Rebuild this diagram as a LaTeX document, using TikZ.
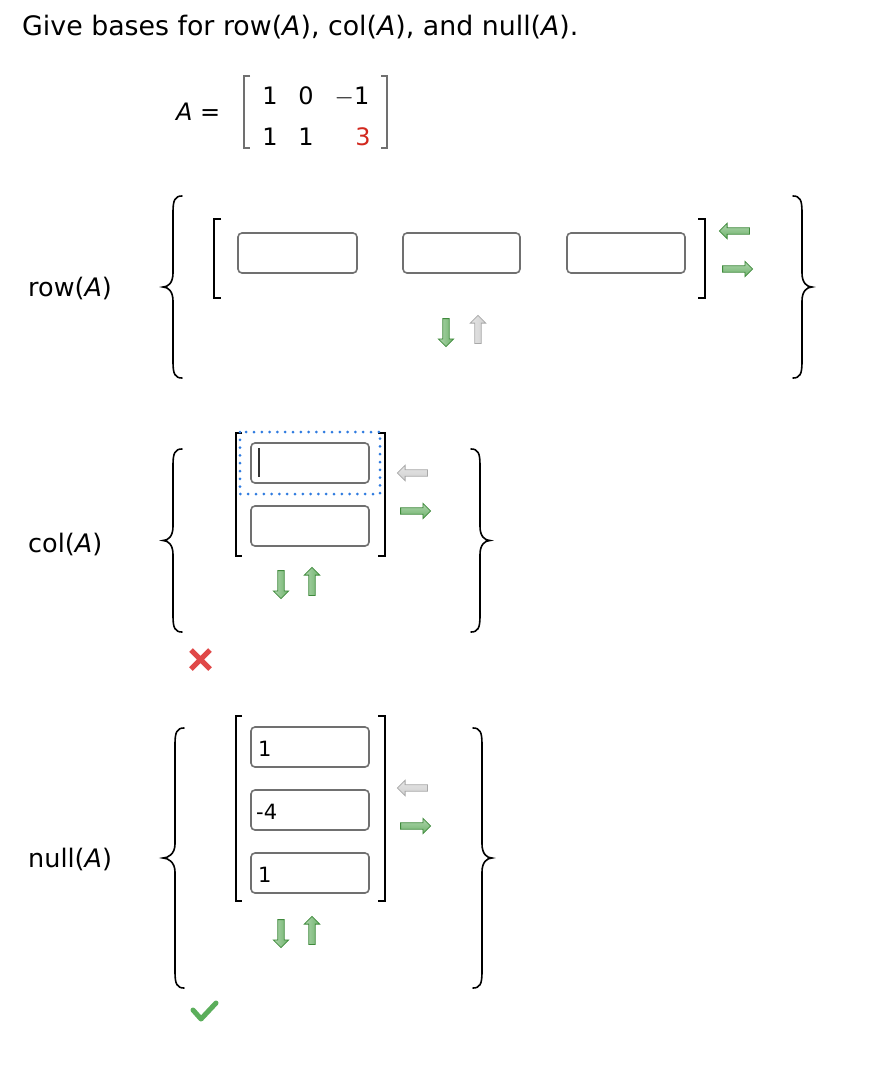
\documentclass[tikz,border=0pt]{standalone}
\usepackage{fontspec}
\setmainfont{DejaVu Sans}
\usetikzlibrary{shapes.arrows}
\definecolor{gboxc}{HTML}{707070}
\definecolor{arrg}{HTML}{6DB26A}
\definecolor{arrgd}{HTML}{3F8A3C}
\definecolor{arrgr}{HTML}{D0D0D0}
\definecolor{arrgrd}{HTML}{A8A8A8}
\definecolor{dotblue}{HTML}{2F7BE0}
\definecolor{redx}{HTML}{E04848}
\definecolor{okg}{HTML}{5BAE5B}
\begin{document}
\begin{tikzpicture}[x=1pt,y=-1pt,
  txt/.style={font=\fontsize{25.5}{30}\selectfont,anchor=base west,inner sep=0},
  ent/.style={font=\fontsize{24}{28}\selectfont,anchor=base,inner sep=0},
  field/.style={draw=gboxc,line width=1.6pt,rounded corners=4pt},
  brk/.style={line width=1.6pt},
  brc/.style={line width=1.6pt,line cap=round},
  harr/.style={single arrow,minimum height=30pt,minimum width=15pt,single arrow head extend=4.5pt,inner sep=2.8pt,draw=#1d,line width=0.8pt,left color=#1!55!white,right color=#1,shading angle=0},
  varr/.style={single arrow,minimum height=28pt,minimum width=15pt,single arrow head extend=4.5pt,inner sep=2.8pt,draw=#1d,line width=0.8pt,left color=#1!55!white,right color=#1}
]
\useasboundingbox (0,0) rectangle (882,1072);
\fill[white] (0,0) rectangle (882,1072);
\newcommand{\mylbrace}[4]{% tip x, arm x, top, bottom
  \draw[brc] (#2+4,#3) .. controls (#2-3,#3) and (#2-5,#3+4) .. (#2-5,#3+16)
    -- (#2-5,{(#3+#4)/2-14}) .. controls (#2-5,{(#3+#4)/2-4}) and (#1+5,{(#3+#4)/2}) .. (#1,{(#3+#4)/2})
    .. controls (#1+5,{(#3+#4)/2}) and (#2-5,{(#3+#4)/2+4}) .. (#2-5,{(#3+#4)/2+14})
    -- (#2-5,#4-16) .. controls (#2-5,#4-4) and (#2-3,#4) .. (#2+4,#4);}
\newcommand{\myrbrace}[4]{% tip x, arm x, top, bottom
  \draw[brc] (#2-4,#3) .. controls (#2+3,#3) and (#2+5,#3+4) .. (#2+5,#3+16)
    -- (#2+5,{(#3+#4)/2-14}) .. controls (#2+5,{(#3+#4)/2-4}) and (#1-5,{(#3+#4)/2}) .. (#1,{(#3+#4)/2})
    .. controls (#1-5,{(#3+#4)/2}) and (#2+5,{(#3+#4)/2+4}) .. (#2+5,{(#3+#4)/2+14})
    -- (#2+5,#4-16) .. controls (#2+5,#4-4) and (#2+3,#4) .. (#2-4,#4);}

\node[txt,font=\fontsize{26.8}{31}\selectfont] (title) at (22,35) {Give bases for row(\textit{A}), col(\textit{A}), and null(\textit{A}).};

% matrix A
\node[txt,font=\fontsize{24}{28}\selectfont] (aeq) at (176,120) {\textit{A} =};
\draw[brk,gboxc] (250,76) -- (244,76) -- (244,148) -- (250,148);
\draw[brk,gboxc] (381,76) -- (387,76) -- (387,148) -- (381,148);
\node[ent] (a11) at (270,104) {1};
\node[ent] (a12) at (306,104) {0};
\node[ent] (a13) at (352,104) {$-$1};
\node[ent] (a21) at (270,145) {1};
\node[ent] (a22) at (306,145) {1};
\node[ent,text={rgb,255:red,210;green,40;blue,30}] (a23) at (363,145) {3};

% row(A)
\node[txt] (rowl) at (28,296) {row(\textit{A})};
\mylbrace{163}{178}{196}{378}
\myrbrace{812}{797}{196}{378}
\draw[brk] (221,219) -- (214,219) -- (214,298) -- (221,298);
\draw[brk] (698,219) -- (705,219) -- (705,298) -- (698,298);
\draw[field] (238,233) rectangle (357,273);
\draw[field] (403,233) rectangle (520,273);
\draw[field] (567,233) rectangle (685,273);
\node[harr=arrg,shape border rotate=180] (r1) at (736,231) {};
\node[harr=arrg] (r2) at (736,269) {};
\node[varr=arrg,shape border rotate=270] (r3) at (446,331) {};
\node[varr=arrgr,shape border rotate=90] (r4) at (478,331) {};

% col(A)
\node[txt] (coll) at (28,552) {col(\textit{A})};
\mylbrace{163}{178}{449}{632}
\myrbrace{490}{475}{449}{632}
\draw[brk] (242,433) -- (236,433) -- (236,556) -- (242,556);
\draw[brk] (378,433) -- (385,433) -- (385,556) -- (378,556);
\draw[dotblue,line width=3pt,dash pattern=on 0pt off 7.8pt,line cap=round] (240,432) rectangle (380,494);
\draw[field] (251,443) rectangle (369,483);
\draw[field] (251,506) rectangle (369,546);
\draw[line width=1.3pt,black!80] (259,448) -- (259,477);
\node[harr=arrgr,shape border rotate=180] (c1) at (414,473) {};
\node[harr=arrg] (c2) at (414,511) {};
\node[varr=arrg,shape border rotate=270] (c3) at (281,583) {};
\node[varr=arrg,shape border rotate=90] (c4) at (312,583) {};
\draw[redx,line width=5pt] (191,650) -- (210,669) (210,650) -- (191,669);

% null(A)
\node[txt] (nulll) at (28,867) {null(\textit{A})};
\mylbrace{163}{180}{728}{988}
\myrbrace{492}{477}{728}{988}
\draw[brk] (242,716) -- (236,716) -- (236,901) -- (242,901);
\draw[brk] (378,716) -- (385,716) -- (385,901) -- (378,901);
\draw[field] (251,727) rectangle (369,767);
\draw[field] (251,790) rectangle (369,830);
\draw[field] (251,853) rectangle (369,893);
\node[txt,font=\fontsize{21}{25}\selectfont] (v1) at (258,756) {1};
\node[txt,font=\fontsize{21}{25}\selectfont] (v2) at (256,819) {-4};
\node[txt,font=\fontsize{21}{25}\selectfont] (v3) at (258,882) {1};
\node[harr=arrgr,shape border rotate=180] (n1) at (414,788) {};
\node[harr=arrg] (n2) at (414,826) {};
\node[varr=arrg,shape border rotate=270] (n3) at (281,932) {};
\node[varr=arrg,shape border rotate=90] (n4) at (312,932) {};
\draw[okg,line width=5pt,line cap=round,line join=round] (193,1010) -- (201,1019) -- (216,1003);
\end{tikzpicture}
\end{document}
